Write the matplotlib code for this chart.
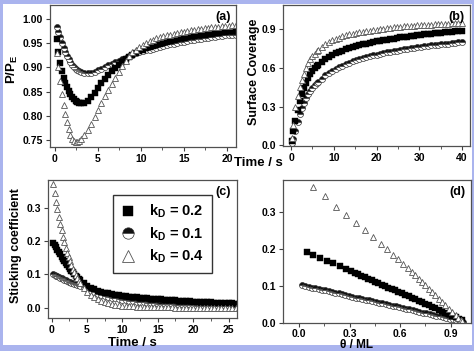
import numpy as np
import matplotlib
matplotlib.use('Agg')
import matplotlib.pyplot as plt
from matplotlib.ticker import MultipleLocator, FormatStrFormatter
from matplotlib.patches import Rectangle

# ---- panel (a): P/P_E vs time ----
t_a = [0.2, 0.4, 0.6, 0.8, 1.0, 1.2, 1.4, 1.6, 1.8, 2.0, 2.2, 2.4, 2.6, 2.8, 3.0,
       3.4, 3.8, 4.2, 4.6, 5.0, 5.4, 5.8, 6.2, 6.6, 7.0, 7.4, 7.8, 8.2, 8.6, 9.0,
       9.4, 9.8, 10.2, 10.6, 11.0, 11.4, 11.8, 12.2, 12.6, 13.0, 13.4, 13.8,
       14.2, 14.6, 15.0, 15.4, 15.8, 16.2, 16.6, 17.0, 17.4, 17.8, 18.2, 18.6,
       19.0, 19.4, 19.8, 20.2, 20.6, 21.0]
p_a_02 = [0.958, 0.932, 0.910, 0.893, 0.879, 0.868, 0.859, 0.851, 0.845, 0.839,
          0.835, 0.831, 0.828, 0.827, 0.826,
          0.827, 0.830, 0.838, 0.847, 0.857, 0.867, 0.876, 0.885, 0.892, 0.899,
          0.906, 0.912, 0.917, 0.922, 0.926, 0.930, 0.934, 0.937, 0.940, 0.942,
          0.945, 0.947, 0.949, 0.951, 0.953, 0.955, 0.957, 0.958, 0.960, 0.961,
          0.963, 0.964, 0.965, 0.966, 0.967, 0.968, 0.969, 0.970, 0.971, 0.972,
          0.973, 0.974, 0.975, 0.975, 0.976]
p_a_01 = [0.984, 0.973, 0.962, 0.951, 0.941, 0.932, 0.924, 0.917, 0.911, 0.906,
          0.901, 0.897, 0.894, 0.892, 0.890,
          0.888, 0.888, 0.889, 0.891, 0.894, 0.897, 0.901, 0.904, 0.908, 0.911,
          0.914, 0.918, 0.920, 0.923, 0.926, 0.929, 0.931, 0.933, 0.935, 0.937,
          0.939, 0.941, 0.943, 0.945, 0.946, 0.948, 0.949, 0.951, 0.952, 0.953,
          0.955, 0.956, 0.957, 0.958, 0.959, 0.960, 0.961, 0.962, 0.963, 0.964,
          0.965, 0.966, 0.966, 0.967, 0.968]
p_a_04 = [0.930, 0.900, 0.872, 0.846, 0.822, 0.803, 0.787, 0.772, 0.760, 0.752,
          0.748, 0.746, 0.746, 0.748, 0.752,
          0.760, 0.771, 0.784, 0.798, 0.812, 0.826, 0.840, 0.853, 0.866, 0.879,
          0.891, 0.903, 0.914, 0.923, 0.931, 0.937, 0.943, 0.947, 0.951, 0.954,
          0.957, 0.960, 0.962, 0.964, 0.966, 0.968, 0.970, 0.971, 0.973, 0.974,
          0.975, 0.977, 0.978, 0.979, 0.980, 0.981, 0.982, 0.983, 0.983, 0.984,
          0.985, 0.986, 0.986, 0.987, 0.988]

# ---- panel (b): surface coverage vs time ----
t_b = [0.2, 0.5, 1.0, 1.5, 2.0, 2.5, 3.0, 3.5, 4.0, 4.5, 5.0, 5.5, 6.0,
       6.4, 7.2, 8.0, 8.8, 9.6, 10.4, 11.2, 12.0, 12.8, 13.6, 14.4, 15.2, 16.0,
       16.8, 17.6, 18.4, 19.2, 20.0, 20.8, 21.6, 22.4, 23.2, 24.0, 24.8, 25.6,
       26.4, 27.2, 28.0, 28.8, 29.6, 30.4, 31.2, 32.0, 32.8, 33.6, 34.4, 35.2,
       36.0, 36.8, 37.6, 38.4, 39.2, 40.0]
cov_02 = [0.03, 0.11, 0.19, 0.27, 0.34, 0.40, 0.445, 0.485, 0.52, 0.55, 0.575,
          0.595, 0.612,
          0.622, 0.645, 0.667, 0.684, 0.698, 0.711, 0.722, 0.732, 0.742, 0.751,
          0.759, 0.767, 0.774, 0.781, 0.787, 0.793, 0.798, 0.803, 0.808, 0.813,
          0.817, 0.821, 0.826, 0.830, 0.834, 0.838, 0.841, 0.845, 0.848, 0.852,
          0.855, 0.858, 0.861, 0.864, 0.866, 0.869, 0.872, 0.874, 0.877, 0.879,
          0.881, 0.884, 0.886]
cov_01 = [0.02, 0.05, 0.11, 0.18, 0.24, 0.285, 0.325, 0.365, 0.395, 0.42, 0.445,
          0.465, 0.483,
          0.492, 0.516, 0.540, 0.559, 0.575, 0.590, 0.604, 0.617, 0.628, 0.639,
          0.649, 0.658, 0.667, 0.675, 0.683, 0.690, 0.696, 0.702, 0.708, 0.713,
          0.718, 0.723, 0.728, 0.733, 0.738, 0.742, 0.746, 0.750, 0.754, 0.758,
          0.762, 0.766, 0.769, 0.772, 0.775, 0.778, 0.781, 0.784, 0.787, 0.790,
          0.793, 0.797, 0.800]
cov_04 = [0.06, 0.16, 0.30, 0.38, 0.45, 0.505, 0.555, 0.595, 0.635, 0.665, 0.69,
          0.71, 0.727,
          0.738, 0.762, 0.782, 0.797, 0.811, 0.822, 0.832, 0.842, 0.850, 0.857,
          0.863, 0.868, 0.874, 0.879, 0.883, 0.887, 0.891, 0.895, 0.899, 0.902,
          0.905, 0.908, 0.912, 0.914, 0.917, 0.919, 0.921, 0.923, 0.925, 0.927,
          0.929, 0.930, 0.932, 0.934, 0.935, 0.937, 0.938, 0.939, 0.941, 0.942,
          0.943, 0.944, 0.945]

# ---- panel (c): sticking coefficient vs time ----
t_c = [0.2, 0.4, 0.6, 0.8, 1.0, 1.2, 1.4, 1.6, 1.8, 2.0, 2.2, 2.4, 2.6, 2.8,
       3.0, 3.2, 3.4, 3.6, 3.8, 4.0,
       4.5, 5.0, 5.5, 6.0, 6.5, 7.0, 7.5, 8.0, 8.5, 9.0, 9.5, 10.0, 10.5, 11.0,
       11.5, 12.0, 12.5, 13.0, 13.5, 14.0, 14.5, 15.0, 15.5, 16.0, 16.5, 17.0,
       17.5, 18.0, 18.5, 19.0, 19.5, 20.0, 20.5, 21.0, 21.5, 22.0, 22.5, 23.0,
       23.5, 24.0, 24.5, 25.0, 25.5, 26.0, 26.5, 27.0]
s_c_02 = [0.195, 0.188, 0.181, 0.174, 0.167, 0.160, 0.153, 0.146, 0.140, 0.134,
          0.128, 0.122, 0.116, 0.111, 0.106, 0.101, 0.096, 0.092, 0.087, 0.083,
          0.074, 0.066, 0.060, 0.055, 0.051, 0.048, 0.045, 0.043, 0.041, 0.039,
          0.037, 0.036, 0.035, 0.033, 0.032, 0.031, 0.030, 0.029, 0.028, 0.027,
          0.026, 0.025, 0.025, 0.024, 0.023, 0.022, 0.022, 0.021, 0.020, 0.020,
          0.019, 0.018, 0.018, 0.017, 0.017, 0.016, 0.016, 0.015, 0.015, 0.014,
          0.014, 0.013, 0.013, 0.012, 0.012, 0.011]
s_c_01 = [0.100, 0.098, 0.096, 0.094, 0.092, 0.090, 0.088, 0.086, 0.084, 0.082,
          0.080, 0.078, 0.077, 0.075, 0.073, 0.072, 0.070, 0.069, 0.067, 0.066,
          0.062, 0.056, 0.051, 0.046, 0.042, 0.039, 0.036, 0.033, 0.030, 0.028,
          0.026, 0.024, 0.022, 0.021, 0.019, 0.018, 0.017, 0.016, 0.015, 0.014,
          0.013, 0.012, 0.012, 0.011, 0.010, 0.010, 0.009, 0.009, 0.008, 0.008,
          0.007, 0.007, 0.006, 0.006, 0.006, 0.005, 0.005, 0.005, 0.004, 0.004,
          0.004, 0.004, 0.003, 0.003, 0.003, 0.003]
s_c_04 = [0.370, 0.345, 0.318, 0.296, 0.273, 0.252, 0.232, 0.213, 0.196, 0.180,
          0.165, 0.152, 0.139, 0.127, 0.116, 0.106, 0.097, 0.089, 0.081, 0.074,
          0.060, 0.048, 0.038, 0.031, 0.025, 0.020, 0.016, 0.013, 0.011, 0.009,
          0.007, 0.006, 0.005, 0.004, 0.004, 0.003, 0.003, 0.002, 0.002, 0.002,
          0.001, 0.001, 0.001, 0.001, 0.001, 0.001, 0.0, 0.0, 0.0, 0.0,
          0.0, 0.0, 0.0, 0.0, 0.0, 0.0, 0.0, 0.0, 0.0, 0.0,
          0.0, 0.0, 0.0, 0.0, 0.0, 0.0]

# ---- panel (d): sticking coefficient vs coverage ----
th_d_02 = [0.044, 0.083, 0.123, 0.162, 0.2, 0.24, 0.278, 0.31, 0.33, 0.35,
           0.37, 0.39, 0.41, 0.43, 0.45, 0.47, 0.49, 0.51, 0.53, 0.55, 0.57,
           0.59, 0.61, 0.63, 0.65, 0.67, 0.69, 0.71, 0.73, 0.75, 0.77, 0.79,
           0.81, 0.83, 0.85, 0.87, 0.89, 0.91, 0.93, 0.95, 0.97]
s_d_02 = [0.192, 0.184, 0.176, 0.168, 0.161, 0.153, 0.145, 0.139, 0.135, 0.131,
          0.127, 0.123, 0.119, 0.115, 0.111, 0.107, 0.103, 0.099, 0.095, 0.091,
          0.087, 0.083, 0.079, 0.075, 0.071, 0.067, 0.063, 0.059, 0.055, 0.051,
          0.047, 0.043, 0.039, 0.035, 0.031, 0.027, 0.023, 0.019, 0.015, 0.011,
          0.007]
th_d_01 = [0.015, 0.035, 0.055, 0.075, 0.095, 0.115, 0.135, 0.155, 0.175, 0.195,
           0.215, 0.235, 0.255, 0.275, 0.295, 0.315, 0.335, 0.355, 0.375, 0.395,
           0.415, 0.435, 0.455, 0.475, 0.495, 0.515, 0.535, 0.555, 0.575, 0.595,
           0.615, 0.635, 0.655, 0.675, 0.695, 0.715, 0.735, 0.755, 0.775, 0.795,
           0.815, 0.835, 0.855, 0.875, 0.895, 0.915, 0.935, 0.955, 0.975]
s_d_01 = [0.101, 0.099, 0.097, 0.095, 0.093, 0.091, 0.089, 0.087, 0.085, 0.083,
          0.081, 0.079, 0.077, 0.075, 0.073, 0.070, 0.068, 0.066, 0.064, 0.062,
          0.060, 0.058, 0.056, 0.054, 0.052, 0.050, 0.048, 0.046, 0.044, 0.042,
          0.040, 0.038, 0.036, 0.034, 0.032, 0.029, 0.027, 0.025, 0.023, 0.021,
          0.019, 0.017, 0.015, 0.013, 0.011, 0.009, 0.007, 0.005, 0.003]
th_d_04 = [0.083, 0.152, 0.22, 0.28, 0.336, 0.39, 0.44, 0.485, 0.52, 0.557,
           0.59, 0.62, 0.645, 0.668, 0.69, 0.71, 0.73, 0.75, 0.77, 0.79, 0.81,
           0.83, 0.85, 0.87, 0.89, 0.91, 0.93, 0.945, 0.96, 0.97]
s_d_04 = [0.368, 0.342, 0.313, 0.290, 0.270, 0.250, 0.232, 0.213, 0.198, 0.184,
          0.171, 0.159, 0.148, 0.138, 0.128, 0.119, 0.110, 0.101, 0.092, 0.083,
          0.074, 0.065, 0.056, 0.047, 0.038, 0.029, 0.020, 0.013, 0.007, 0.004]

labels = {'02': r'k$_\mathbf{D}$ = 0.2', '01': r'k$_\mathbf{D}$ = 0.1',
          '04': r'k$_\mathbf{D}$ = 0.4'}

plt.rcParams['font.family'] = ['Liberation Sans', 'DejaVu Sans']
plt.rcParams['font.weight'] = 'bold'
plt.rcParams['mathtext.fontset'] = 'custom'
plt.rcParams['mathtext.rm'] = 'Liberation Sans:bold'
plt.rcParams['mathtext.bf'] = 'Liberation Sans:bold'
plt.rcParams['mathtext.it'] = 'Liberation Sans:bold'

W, H = 474, 351


def draw(ax, x, y, kind):
    # marker look per k_D series
    if kind == '02':
        return ax.plot(x, y, ls='none', marker='s', ms=4.1, mfc='k', mec='k',
                       mew=0.3, label=labels[kind])[0]
    if kind == '01':
        return ax.plot(x, y, ls='none', marker='o', ms=4.3, fillstyle='top',
                       mfc='#111111', mfcalt='white', mec='#333333', mew=0.5,
                       label=labels[kind])[0]
    return ax.plot(x, y, ls='none', marker='^', ms=4.6, mfc='white',
                   mec='#555555', mew=0.6, label=labels[kind])[0]


def make_axes(box, xlim, ylim, xmaj, ymaj, xfmt, yfmt, letter):
    # box in pixels: left, top, right, bottom
    l, t, r, b = box
    ax = fig.add_axes([l / W, (H - b) / H, (r - l) / W, (b - t) / H])
    ax.set_xlim(*xlim)
    ax.set_ylim(*ylim)
    ax.xaxis.set_major_locator(MultipleLocator(xmaj))
    ax.xaxis.set_minor_locator(MultipleLocator(xmaj / 2))
    ax.yaxis.set_major_locator(MultipleLocator(ymaj))
    ax.xaxis.set_major_formatter(FormatStrFormatter(xfmt))
    ax.yaxis.set_major_formatter(FormatStrFormatter(yfmt))
    ax.tick_params(which='major', direction='out', length=3, width=0.8,
                   labelsize=7.5, pad=2, color='#404040')
    ax.tick_params(which='minor', direction='out', length=1.8, width=0.6,
                   color='#404040')
    for sp in ax.spines.values():
        sp.set_color('#505050')
        sp.set_linewidth(0.9)
    ax.text(0.97, 0.96, letter, transform=ax.transAxes, ha='right', va='top',
            fontsize=9, fontweight='bold')
    return ax


fig = plt.figure(figsize=(W / 100, H / 100), dpi=100, facecolor='#aab4ee')
fig.patches.append(Rectangle((3 / W, 6 / H), 469 / W, 341 / H,
                             transform=fig.transFigure, facecolor='white',
                             edgecolor='none', zorder=-10))

ax_a = make_axes((50, 5, 236, 147), (-0.58, 21.05), (0.7355, 1.029),
                 5, 0.05, '%d', '%.2f', '(a)')
draw(ax_a, t_a, p_a_01, '01')
draw(ax_a, t_a, p_a_02, '02')
draw(ax_a, t_a, p_a_04, '04')

ax_b = make_axes((283, 5, 470, 146), (-1.9, 41.9), (-0.005, 1.085),
                 10, 0.3, '%d', '%.1f', '(b)')
draw(ax_b, t_b, cov_01, '01')
draw(ax_b, t_b, cov_02, '02')
draw(ax_b, t_b, cov_04, '04')

ax_c = make_axes((48, 180, 237, 318), (-0.52, 26.2), (-0.031, 0.383),
                 5, 0.1, '%d', '%.1f', '(c)')
h01 = draw(ax_c, t_c, s_c_01, '01')
h02 = draw(ax_c, t_c, s_c_02, '02')
h04 = draw(ax_c, t_c, s_c_04, '04')
leg = ax_c.legend([h02, h01, h04], [labels['02'], labels['01'], labels['04']],
                  loc='upper left', bbox_to_anchor=(0.344, 0.891),
                  fancybox=False, edgecolor='k', fontsize=10.5, markerscale=1.9,
                  handlelength=1.0, handletextpad=0.9, labelspacing=0.35,
                  borderpad=0.55, borderaxespad=0)
leg.get_frame().set_linewidth(1.0)

ax_d = make_axes((283, 180, 471, 323), (-0.097, 1.022), (-0.001, 0.386),
                 0.3, 0.1, '%.1f', '%.1f', '(d)')
ax_d.tick_params(axis='x', which='major', pad=1)
draw(ax_d, th_d_01, s_d_01, '01')
draw(ax_d, th_d_02, s_d_02, '02')
draw(ax_d, th_d_04, s_d_04, '04')

# axis titles placed at their positions in the figure
fig.text(12 / W, 1 - 69 / H, r'P/P$_\mathbf{E}$', rotation=90, ha='center',
         va='center', fontsize=9.5, fontweight='bold')
fig.text(254 / W, 1 - 72 / H, 'Surface Coverage', rotation=90, ha='center',
         va='center', fontsize=9, fontweight='bold')
fig.text(16 / W, 1 - 246 / H, 'Sticking coefficient', rotation=90,
         ha='center', va='center', fontsize=9, fontweight='bold')
fig.text(258 / W, 1 - 163 / H, 'Time / s', ha='center', va='center',
         fontsize=9.5, fontweight='bold')
fig.text(132 / W, 1 - 343 / H, 'Time / s', ha='center', va='center',
         fontsize=9.5, fontweight='bold')
fig.text(357 / W, 1 - 345 / H, 'θ / ML', ha='center', va='center',
         fontsize=8.5, fontweight='bold')

fig.savefig('out.png', dpi=100, facecolor=fig.get_facecolor())
